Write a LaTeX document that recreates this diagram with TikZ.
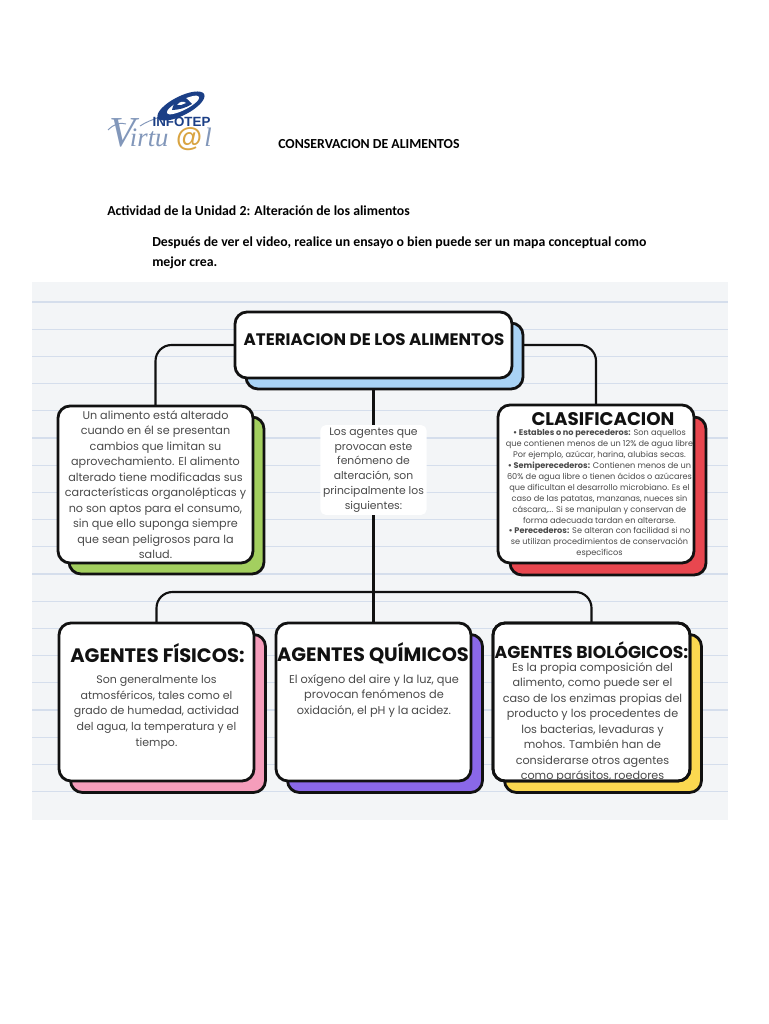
\documentclass[tikz,border=0pt]{standalone}
\usepackage{fontspec}
\setmainfont{Poppins}
\newfontfamily\docfont{Carlito}
\newfontfamily\logofont{Liberation Sans}
\newfontfamily\logoscript{Liberation Serif}
\usetikzlibrary{backgrounds}
\definecolor{pagebg}{HTML}{F3F5F7}
\definecolor{rule}{HTML}{D5DEEC}
\definecolor{ink}{HTML}{111111}
\definecolor{bodyink}{HTML}{4A4A4A}
\definecolor{skyc}{HTML}{A9D3F5}
\definecolor{greenc}{HTML}{A3CF5F}
\definecolor{redc}{HTML}{E8474F}
\definecolor{pinkc}{HTML}{F59DBB}
\definecolor{violetc}{HTML}{8A68E8}
\definecolor{yellowc}{HTML}{FBD850}
\definecolor{logoblue}{HTML}{1B3F86}
\definecolor{logogrey}{HTML}{8297BA}
\definecolor{logogold}{HTML}{D9A441}
\tikzset{
  x=0.75pt,y=-0.75pt,
  card/.style={draw=ink,line width=2.1pt,rounded corners=9pt,fill=white,inner sep=0pt,outer sep=0pt,anchor=north west},
  conn/.style={draw=ink,line width=1.6pt,rounded corners=12pt},
  doctext/.style={font=\docfont\bfseries\fontsize{10.35}{14.5}\selectfont,text=black,anchor=west,inner sep=0pt},
  heading/.style={text=ink,inner sep=0pt,anchor=center},
  body/.style={text=bodyink,inner sep=0pt,align=center,anchor=north},
}
\newcommand{\cardbox}[7]{% name, x, y, w, h, colour, dx/dy
  \node[card,fill=#6,minimum width=#4*0.75pt,minimum height=#5*0.75pt] (#1s) at (#2+#7,#3+#7) {};
  \node[card,minimum width=#4*0.75pt,minimum height=#5*0.75pt] (#1) at (#2,#3) {};
}
\begin{document}
\begin{tikzpicture}
\useasboundingbox (0,0) rectangle (768,1024);
\begin{scope}[on background layer]
  \fill[white] (0,0) rectangle (768,1024);
  \fill[pagebg] (32,282) rectangle (728,820);
  \foreach \i in {0,...,18} \draw[rule,line width=0.8pt] (32,302+27.2*\i) -- (728,302+27.2*\i);
\end{scope}

% logo
\draw[logogrey,line width=0.7pt] (108,130) .. controls (114,124) and (120,122) .. (126,124);
\draw[logogrey,line width=0.7pt] (140,126) .. controls (146,122) and (152,120) .. (157,118);
\fill[logoblue,rotate around={27:(181,106)}] (181,106) ellipse [x radius=26,y radius=9.5];
\fill[white,rotate around={27:(183,105)}] (183,105) ellipse [x radius=18,y radius=5];
\fill[logoblue] (172,110) .. controls (174,100) and (180,97) .. (184,97) .. controls (188,99) and (190,102) .. (192,104) .. controls (186,108) and (178,110) .. (172,110) -- cycle;
\fill[white] (177,105) .. controls (180,101) and (184,101) .. (186,103) .. controls (183,105) and (180,105) .. (177,105) -- cycle;
\node[font=\logofont\bfseries\fontsize{10}{12}\selectfont,text=logoblue,inner sep=0pt] (logotop) at (181.5,122) {INFOTEP};
\node[font=\logoscript\itshape\fontsize{20}{20}\selectfont,text=logogrey,inner sep=0pt,anchor=base west] (logov) at (109,146) {{\fontsize{32}{32}\selectfont V}\kern-4pt irtu};
\node[font=\logofont\bfseries\fontsize{20}{20}\selectfont,text=logogold,inner sep=0pt] (logoat) at (189,139) {@};
\node[font=\logoscript\itshape\fontsize{20}{20}\selectfont,text=logogrey,inner sep=0pt,anchor=base west] (logol) at (204,146) {l};

% document text
\node[doctext] (doctitle) at (278,144) {CONSERVACION DE ALIMENTOS};
\node[doctext] (docact) at (107,211) {Actividad de la Unidad 2: Alteración de los alimentos};
\node[doctext] (docq1) at (152,243) {Después de ver el video, realice un ensayo o bien puede ser un mapa conceptual como};
\node[doctext] (docq2) at (152,263) {mejor crea.};

% cards
\cardbox{title}{235}{312}{277}{66}{skyc}{11}
\cardbox{green}{58}{406}{195}{157}{greenc}{11}
\cardbox{red}{498}{405}{196}{158}{redc}{12}
\cardbox{phys}{59}{623}{195}{158}{pinkc}{11.5}
\cardbox{chem}{276}{623}{195}{158}{violetc}{11.5}
\cardbox{bio}{493}{623}{197}{158}{yellowc}{11.5}

% title card
\node[heading,font=\bfseries\fontsize{12.5}{14}\selectfont] (titletext) at (374,340) {ATERIACION DE LOS ALIMENTOS};

% green card
\node[body,font=\fontsize{8.4}{11.66}\selectfont] (greentext) at (155.5,410) {Un alimento está alterado\\cuando en él se presentan\\cambios que limitan su\\aprovechamiento. El alimento\\alterado tiene modificadas sus\\características organolépticas y\\no son aptos para el consumo,\\sin que ello suponga siempre\\que sean peligrosos para la\\salud.};

% red card
\node[heading,font=\bfseries\fontsize{13.7}{16}\selectfont] (redhead) at (603,419) {CLASIFICACION};
\node[body,font=\fontsize{6.13}{8.18}\selectfont] (redtext) at (599.5,429.5) {\textbf{• Estables o no perecederos:} Son aquellos\\que contienen menos de un 12\% de agua libre\\Por ejemplo, azúcar, harina, alubias secas.\\\textbf{• Semiperecederos:} Contienen menos de un\\60\% de agua libre o tienen ácidos o azúcares\\que dificultan el desarrollo microbiano. Es el\\caso de las patatas, manzanas, nueces sin\\cáscara,... Si se manipulan y conservan de\\forma adecuada tardan en alterarse.\\\textbf{• Perecederos:} Se alteran con facilidad si no\\se utilizan procedimientos de conservación\\específicos};

% centre label
\node[fill=white,rounded corners=4pt,inner xsep=2pt,inner ysep=2pt,text=bodyink,align=center,font=\fontsize{8.1}{11.1}\selectfont] (mid) at (373.5,470) {Los agentes que\\provocan este\\fenómeno de\\alteración, son\\principalmente los\\siguientes:};

% lower cards
\node[heading,font=\bfseries\fontsize{14.6}{16}\selectfont] (physhead) at (157.5,653) {AGENTES FÍSICOS:};
\node[body,font=\fontsize{8.25}{11.75}\selectfont] (phystext) at (156.5,675) {Son generalmente los\\atmosféricos, tales como el\\grado de humedad, actividad\\del agua, la temperatura y el\\tiempo.};
\node[heading,font=\bfseries\fontsize{14.5}{16}\selectfont] (chemhead) at (373,653) {AGENTES QUÍMICOS};
\node[body,font=\fontsize{8.5}{11.75}\selectfont] (chemtext) at (374,674) {El oxígeno del aire y la luz, que\\provocan fenómenos de\\oxidación, el pH y la acidez.};
\node[heading,font=\bfseries\fontsize{12.9}{16}\selectfont] (biohead) at (591.5,650) {AGENTES BIOLÓGICOS:};
\begin{scope}
  \clip (490,660) rectangle (692,779);
  \node[body,font=\fontsize{8.4}{11.65}\selectfont] (biotext) at (592.5,662) {Es la propia composición del\\alimento, como puede ser el\\caso de los enzimas propias del\\producto y los procedentes de\\los bacterias, levaduras y\\mohos. También han de\\considerarse otros agentes\\como parásitos, roedores};
\end{scope}
\draw[draw=ink,line width=2.1pt,rounded corners=9pt] (bio.north west) rectangle (bio.south east);

% connectors
\coordinate (bus) at (373.5,592);
\begin{scope}[on background layer]
  \draw[conn] (title.west) -| (green.north);
  \draw[conn] (title.east) -| (red.north);
  \draw[conn] (title.south) -- (mid.north);
  \draw[conn] (mid.south) -- (chem.north);
  \draw[conn] (phys.north) |- (bus) -| (bio.north);
\end{scope}
\end{tikzpicture}
\end{document}
